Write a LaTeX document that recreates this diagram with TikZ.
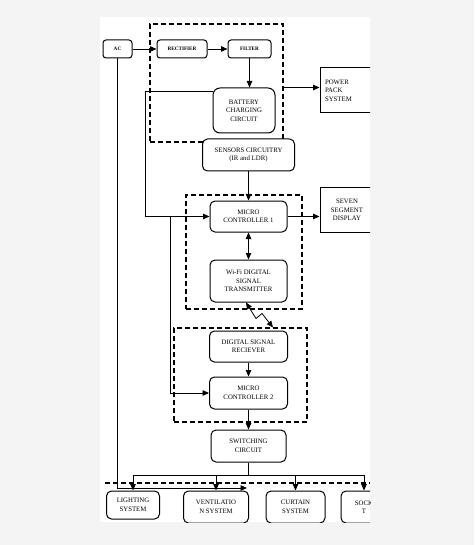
\documentclass[tikz,border=0pt]{standalone}
\usepackage{fontspec}
\setmainfont{Liberation Serif}
\usetikzlibrary{arrows.meta}
\definecolor{pagegray}{RGB}{244,244,244}
\tikzset{
  blk/.style={draw,line width=1pt,rounded corners=5pt,fill=white,align=center,inner sep=0pt,
    font=\fontsize{6.8}{8.5}\selectfont},
  smallblk/.style={blk,rounded corners=3pt,font=\fontsize{5.2}{6}\selectfont\bfseries},
  sqblk/.style={blk,rounded corners=0pt},
  grp/.style={draw,line width=1.1pt,dash pattern=on 5pt off 3pt,inner sep=0pt},
}
\begin{document}
\begin{tikzpicture}[x=1pt,y=-1pt,>={Triangle[length=6.5pt,width=5.5pt]}]
  \fill[pagegray] (0,0) rectangle (474,545);
  \fill[white] (100,17) rectangle (370,522);
  \begin{scope}
  \clip (100,17) rectangle (370,522);
  % dashed groups
  \begin{scope}[every node/.style={grp}]
  \node (gpower) at (216.5,83) [minimum width=133pt,minimum height=118pt] {};
  \node (gtx) at (244,252) [minimum width=116pt,minimum height=114pt] {};
  \node (grx) at (240.5,375) [minimum width=133pt,minimum height=94pt] {};
  \end{scope}
  \draw[grp] (105,483) -- (370,483);
  % blocks
  \node[smallblk,minimum width=29pt,minimum height=18pt] (ac) at (117.5,49) {AC};
  \node[smallblk,minimum width=50pt,minimum height=18pt] (rect) at (182,49) {RECTIFIER};
  \node[smallblk,minimum width=43pt,minimum height=18pt] (filt) at (249.5,49) {FILTER};
  \node[blk,rounded corners=7pt,minimum width=62pt,minimum height=45pt] (batt) at (244,110.5) {BATTERY\\CHARGING\\CIRCUIT};
  \node[sqblk,minimum width=54pt,minimum height=45pt,align=left,text width=44pt] (pwr) at (347,90.5) {POWER\\PACK\\SYSTEM};
  \node[blk,minimum width=92pt,minimum height=32pt] (sens) at (248.5,155) {SENSORS CIRCUITRY\\(IR and LDR)};
  \node[blk,minimum width=77pt,minimum height=31pt] (mcu1) at (248.5,216.5) {MICRO\\CONTROLLER 1};
  \node[sqblk,minimum width=54pt,minimum height=44pt] (seg) at (347,210) {SEVEN\\SEGMENT\\DISPLAY};
  \node[blk,minimum width=77pt,minimum height=42pt] (wifi) at (248.5,281) {Wi-Fi DIGITAL\\SIGNAL\\TRANSMITTER};
  \node[blk,minimum width=78pt,minimum height=31pt] (recv) at (248.5,346.5) {DIGITAL SIGNAL\\RECIEVER};
  \node[blk,minimum width=78pt,minimum height=32pt] (mcu2) at (248.5,393) {MICRO\\CONTROLLER 2};
  \node[blk,minimum width=75pt,minimum height=32pt] (sw) at (248.5,446) {SWITCHING\\CIRCUIT};
  \node[blk,minimum width=53pt,minimum height=28pt] (light) at (133,505) {LIGHTING\\SYSTEM};
  \node[blk,minimum width=65pt,minimum height=32pt] (vent) at (216,507) {VENTILATIO\\N SYSTEM};
  \node[blk,minimum width=59pt,minimum height=32pt] (curt) at (295.5,507) {CURTAIN\\SYSTEM};
  \node[blk,minimum width=46pt,minimum height=32pt] (sock) at (364,507) {SOCK\\T};
  % connectors
  \coordinate (bl) at (145,91);
  \coordinate (br) at (170,216.5);
  \coordinate (acend) at (247,488);
  \coordinate (bus) at (248.5,475);
  \begin{scope}[every path/.style={draw,line width=0.8pt}]
  \path[->] (ac) -- (rect);
  \path[->] (rect) -- (filt);
  \path[->] (filt) -- (filt |- batt.north);
  \path[->] (batt.north -| gpower.east) -- (batt.north -| pwr.west);
  \path[->] (bl -| batt.west) -- (bl) |- (mcu1);
  \path[->] (br) |- (mcu2);
  \path[->] (ac) |- (acend);
  \path[->] (sens) -- (mcu1);
  \path[->] (mcu1.east) -- (mcu1.east -| seg.west);
  \path[<->] (mcu1) -- (wifi);
  \path[<->] ([xshift=-2.5pt]wifi.south) -- ++(10,16) -- ++(6,-5) -- ([xshift=24.5pt,yshift=3pt]recv.north);
  \path[->] (recv) -- (mcu2);
  \path[->] (mcu2) -- (sw);
  \path (sw) -- (bus);
  \path (light |- bus) -- (sock |- bus);
  \end{scope}
  \foreach \n in {light,vent,curt,sock}
    \draw[->,line width=0.8pt] (\n |- bus) -- (\n);
  \end{scope}
\end{tikzpicture}
\end{document}
